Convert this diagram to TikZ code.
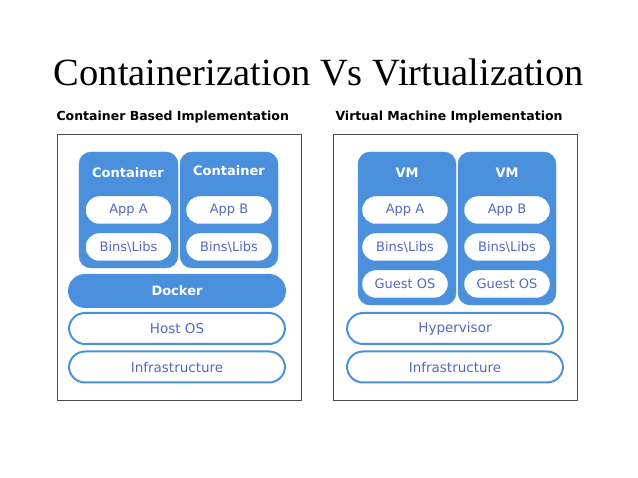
\documentclass[tikz,border=0pt]{standalone}
\usepackage{fontspec}
\setmainfont{Liberation Serif}
\newfontfamily\lab{DejaVu Sans}
\definecolor{bl}{HTML}{4A90DC}
\definecolor{tx}{HTML}{5568C0}
\begin{document}
\begin{tikzpicture}[x=1pt,y=-1pt,
 panel/.style={draw=black!70,line width=0.8pt},
 grp/.style={fill=bl,draw=bl,rounded corners=12pt},
 pill/.style={draw=bl,line width=1.5pt,fill=white,rounded corners=14pt,font=\lab\fontsize{13}{15}\selectfont,text=tx},
 bar/.style={draw=bl,line width=2pt,fill=white,rounded corners=16pt,font=\lab\fontsize{13.5}{16}\selectfont,text=tx},
 hd/.style={font=\lab\bfseries\fontsize{13}{15}\selectfont,text=white},
 ttl/.style={font=\lab\bfseries\fontsize{12.5}{14}\selectfont,anchor=west}]
\useasboundingbox (0,0) rectangle (638,478);
\node (title) at (319,72) {\fontsize{38.5}{42}\selectfont Containerization Vs Virtualization};
% left
\node[ttl] (lt) at (53,117) {Container Based Implementation};
\draw[panel] (57,134) rectangle (301,400);
\draw[grp] (79,152) rectangle (178,268);
\draw[grp] (180,152) rectangle (278,268);
\node[hd] (c1) at (128,173) {Container};
\node[hd] (c2) at (229,171) {Container};
\node[pill,minimum width=87pt,minimum height=29pt] (a1) at (128.5,210) {App A};
\node[pill,minimum width=87pt,minimum height=29pt] (b1) at (128.5,247) {Bins\textbackslash Libs};
\node[pill,minimum width=87pt,minimum height=29pt] (a2) at (229,210) {App B};
\node[pill,minimum width=87pt,minimum height=29pt] (b2) at (229,247) {Bins\textbackslash Libs};
\node[fill=bl,rounded corners=17pt,minimum width=218pt,minimum height=34pt,hd] (dk) at (177,291) {Docker};
\node[bar,minimum width=216pt,minimum height=31pt] (ho) at (177,328.5) {Host OS};
\node[bar,minimum width=216pt,minimum height=31pt] (in1) at (177,367) {Infrastructure};
% right
\node[ttl] (rt) at (332,117) {Virtual Machine Implementation};
\draw[panel] (333,134) rectangle (577,400);
\draw[grp] (358,152) rectangle (456,305);
\draw[grp] (458,152) rectangle (556,305);
\node[hd] (v1) at (407,173) {VM};
\node[hd] (v2) at (507,173) {VM};
\node[pill,minimum width=87pt,minimum height=29pt] (ra1) at (405,210) {App A};
\node[pill,minimum width=87pt,minimum height=29pt] (rb1) at (405,247) {Bins\textbackslash Libs};
\node[pill,minimum width=87pt,minimum height=29pt] (rg1) at (405,284) {Guest OS};
\node[pill,minimum width=87pt,minimum height=29pt] (ra2) at (507,210) {App B};
\node[pill,minimum width=87pt,minimum height=29pt] (rb2) at (507,247) {Bins\textbackslash Libs};
\node[pill,minimum width=87pt,minimum height=29pt] (rg2) at (507,284) {Guest OS};
\node[bar,minimum width=216pt,minimum height=31pt] (hv) at (455,328.5) {Hypervisor};
\node[bar,minimum width=216pt,minimum height=31pt] (in2) at (455,367) {Infrastructure};
\end{tikzpicture}
\end{document}
